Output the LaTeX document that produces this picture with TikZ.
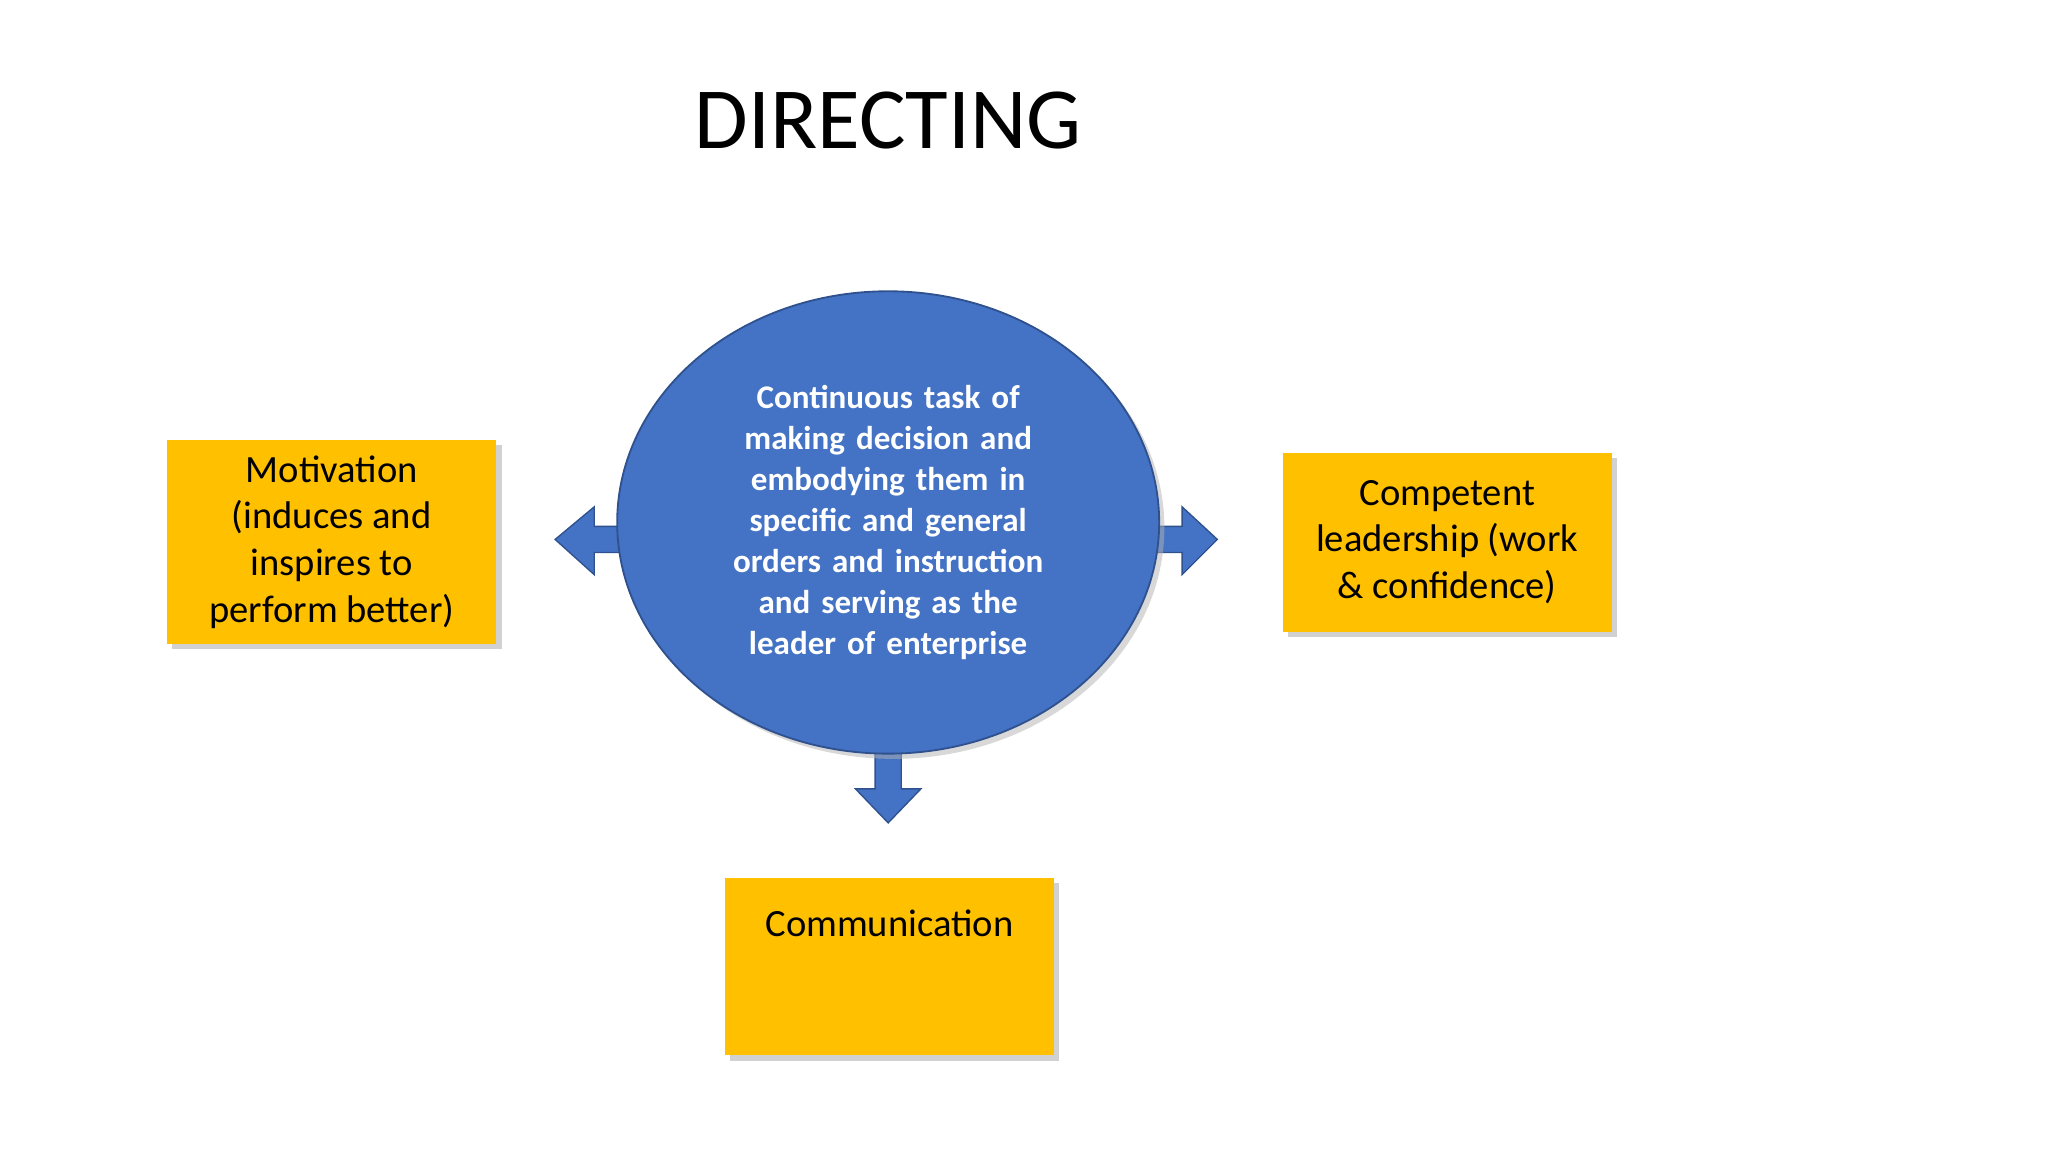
\documentclass[tikz,border=0pt]{standalone}
\usepackage{fontspec}
\setmainfont{Carlito}
\usetikzlibrary{shadows,shapes.geometric}
\definecolor{eblue}{HTML}{4472C4}
\definecolor{eedge}{HTML}{2F528F}
\definecolor{gold}{HTML}{FFC000}
\begin{document}
\begin{tikzpicture}[
    box/.style={draw=none, fill=gold, minimum width=2.52cm, minimum height=1.37cm,
      align=center, font=\fontsize{8.4pt}{10.2pt}\selectfont,
      drop shadow={shadow xshift=0.04cm, shadow yshift=-0.04cm, fill=black!30, opacity=0.6}},
    blockarrow/.style={fill=eblue, draw=eedge, line width=0.3pt}
  ]
  \useasboundingbox (0,0) rectangle (15.68,8.82);
  % title
  \node (title) at (6.80,7.90) {\fontsize{19pt}{22pt}\selectfont DIRECTING};

  % arrows behind the ellipse
  \draw[blockarrow] (5.00,4.79) -- (4.55,4.79) -- (4.55,4.94) -- (4.25,4.69)
    -- (4.55,4.42) -- (4.55,4.59) -- (5.00,4.59) -- cycle;
  \draw[blockarrow] (8.60,4.79) -- (9.05,4.79) -- (9.05,4.94) -- (9.32,4.69)
    -- (9.05,4.42) -- (9.05,4.59) -- (8.60,4.59) -- cycle;
  \draw[blockarrow] (6.70,3.20) -- (6.70,2.78) -- (6.55,2.78) -- (6.80,2.52)
    -- (7.05,2.78) -- (6.90,2.78) -- (6.90,3.20) -- cycle;

  % centre
  \node[ellipse, fill=eblue, draw=eedge, line width=0.4pt,
        minimum width=3.96cm, minimum height=3.54cm, text width=2.7cm, align=center,
        text=white, font=\bfseries\fontsize{7.2pt}{8.9pt}\selectfont,
        drop shadow={shadow xshift=0.04cm, shadow yshift=-0.04cm, fill=black!30, opacity=0.5}]
    (task) at (6.80,4.82) {Continuous task of making decision and embodying them in specific and general orders and instruction and serving as the leader of enterprise};

  % outcomes
  \node[box] (motiv) at (2.54,4.67) {Motivation\\(induces and\\inspires to\\perform better)};
  \node[box] (lead) at (11.08,4.67) {Competent\\leadership (work\\\& confidence)};
  \node[box, minimum height=1.36cm] (comm) at (6.81,1.42) {Communication\\[0.3cm]};
\end{tikzpicture}
\end{document}
